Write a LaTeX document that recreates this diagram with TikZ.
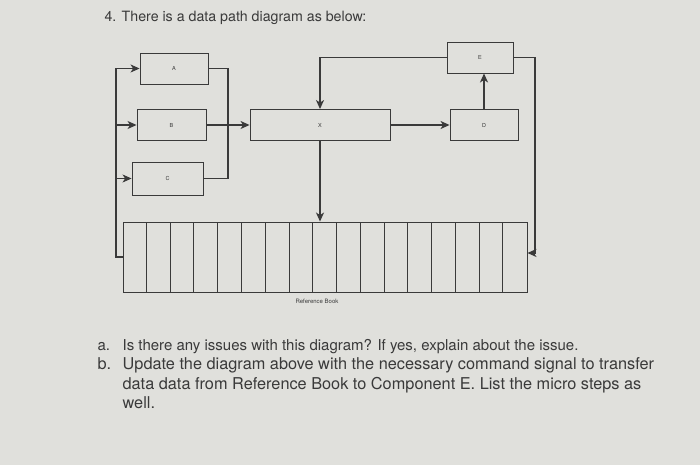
\documentclass[tikz,border=0pt]{standalone}
\usepackage{fontspec}
\setmainfont{TeX Gyre Heros}
\usetikzlibrary{arrows.meta}
\definecolor{paper}{RGB}{224,224,220}
\definecolor{ink}{RGB}{58,58,58}
\begin{document}
\begin{tikzpicture}[x=1pt,y=-1pt,line width=1.2pt,color=ink,
	unit/.style={draw,line width=0.9pt,minimum height=31pt,inner sep=0pt,font=\fontsize{5.5}{6}\selectfont},
	wire/.style={-{Stealth[length=9pt,width=8pt,inset=2.5pt]}},
	question/.style={anchor=base west,inner sep=0pt,font=\fontsize{16.3}{19}\selectfont}]
\fill[paper] (0,0) rectangle (700,465);
\useasboundingbox (0,0) rectangle (700,465);
\node[anchor=base west,inner sep=0pt,font=\fontsize{14.2}{16}\selectfont] (title) at (104,22) {4. There is a data path diagram as below:};
% components
\node[unit,minimum width=68pt] (A) at (174,68.5) {A};
\node[unit,minimum width=69pt] (B) at (171.5,125) {B};
\node[unit,minimum width=71pt,minimum height=33pt] (C) at (167.5,178.5) {C};
\node[unit,minimum width=140pt] (X) at (320,125) {X};
\node[unit,minimum width=68pt] (D) at (484,125) {D};
\node[unit,minimum width=66pt] (E) at (480,57.5) {E};
\node[draw,line width=0.9pt,minimum width=404pt,minimum height=70pt,inner sep=0pt] (book) at (325,257) {};
\foreach \i in {1,...,16}
	\draw[line width=0.8pt] (book.south west) ++(\i*23.765,0) -- ++(0,-70);
\node[font=\fontsize{6}{7}\selectfont] (booklabel) at (317,301) {Reference Book};
% buses
\coordinate (bus) at (116,0);
\coordinate (merge) at (228,0);
\coordinate (ret) at (535,253);
\draw[wire] (book.west) -| (bus |- A.west) -- (A.west);
\draw[wire] (bus |- B.west) -- (B.west);
\draw[wire] (bus |- C.west) -- (C.west);
\draw (A.east) -| (merge |- C.east) -- (C.east);
\draw[wire] (B.east) -- (X.west);
\draw[wire] (E.west) -| (X.north);
\draw[wire] (X.south) -- (X.south |- book.north);
\draw[wire] (X.east) -- (D.west);
\draw[wire] (D.north) -- (D.north |- E.south);
\draw[wire] (E.east) -| (ret) -- (ret -| book.east);
% questions
\node[question,font=\fontsize{15}{18}\selectfont] (qa) at (97,350) {a.};
\node[question,font=\fontsize{15}{18}\selectfont] (qatext) at (122,350) {Is there any issues with this diagram? If yes, explain about the issue.};
\node[question] (qb) at (97,369.5) {b.};
\node[question] (qbtext1) at (122,369.5) {Update the diagram above with the necessary command signal to transfer};
\node[question] (qbtext2) at (122,389) {data data from Reference Book to Component E. List the micro steps as};
\node[question] (qbtext3) at (122,408.5) {well.};
\end{tikzpicture}
\end{document}
